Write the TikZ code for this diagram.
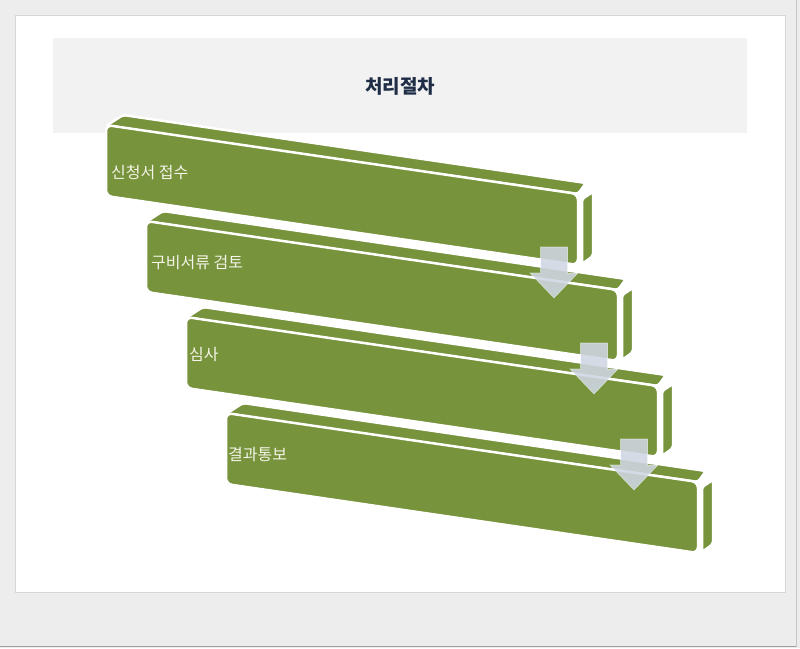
\documentclass[tikz,border=0pt]{standalone}
\usepackage{fontspec}
\newfontfamily\kr{Noto Sans CJK KR}
\usepackage{xcolor}
\usepackage{tikz}

\definecolor{barGreen}{HTML}{77933C}
\definecolor{frameGray}{HTML}{EDEDED}
\definecolor{innerLine}{HTML}{D6D6D6}
\definecolor{titleGray}{HTML}{F2F2F2}
\definecolor{titleNavy}{HTML}{1F2D47}
\definecolor{labelCream}{HTML}{F4F4E8}
\definecolor{arrowGray}{HTML}{CFD7E3}

\begin{document}
\begin{tikzpicture}[x=1pt, y=-1pt,
  face/.style={fill=barGreen, draw=white, line width=2.5pt, line join=round},
  topface/.style={face, rounded corners=3pt},
  sideface/.style={face, rounded corners=2pt},
  frontface/.style={face, rounded corners=6pt},
  barlabel/.style={anchor=west, inner sep=0pt, text=labelCream, font=\kr\fontsize{16}{19}\selectfont},
  downarrow/.style={fill=arrowGray, fill opacity=0.88, draw=white, draw opacity=0.5, line width=0.6pt}]
\useasboundingbox (0,0) rectangle (800,648);

\fill[frameGray] (0,0) rectangle (800,648);
\draw[gray!75, line width=1.2pt] (0,646.6) -- (797,646.6);
\draw[gray!45, line width=1pt] (796.5,0) -- (796.5,647);
\draw[fill=white, draw=innerLine, line width=1pt] (15,15) rectangle (785,592);
\fill[titleGray] (53,38) rectangle (747,133);
\node[text=titleNavy, font=\kr\bfseries\fontsize{19}{22}\selectfont] (title) at (400,86) {처리절차};

\draw[topface, shift={(226,413)}] (0,1) -- (17,-10) -- (480,58) -- (472,69) -- cycle;
\draw[sideface, shift={(226,413)}] (476,74) -- (487,67) -- (487,131) -- (476,139) -- cycle;
\draw[frontface, shift={(226,413)}] (0,0) -- (472,69) -- (472,140) -- (0,71) -- cycle;

\draw[topface, shift={(186,317)}] (0,1) -- (17,-10) -- (480,58) -- (472,69) -- cycle;
\draw[sideface, shift={(186,317)}] (476,74) -- (487,67) -- (487,131) -- (476,139) -- cycle;
\draw[frontface, shift={(186,317)}] (0,0) -- (472,69) -- (472,140) -- (0,71) -- cycle;

\draw[topface, shift={(146,221)}] (0,1) -- (17,-10) -- (480,58) -- (472,69) -- cycle;
\draw[sideface, shift={(146,221)}] (476,74) -- (487,67) -- (487,131) -- (476,139) -- cycle;
\draw[frontface, shift={(146,221)}] (0,0) -- (472,69) -- (472,140) -- (0,71) -- cycle;

\draw[topface, shift={(106,125)}] (0,1) -- (17,-10) -- (480,58) -- (472,69) -- cycle;
\draw[sideface, shift={(106,125)}] (476,74) -- (487,67) -- (487,131) -- (476,139) -- cycle;
\draw[frontface, shift={(106,125)}] (0,0) -- (472,69) -- (472,140) -- (0,71) -- cycle;

\node[barlabel] (apply) at (111,172) {신청서 접수};
\node[barlabel] (docs) at (151,263) {구비서류 검토};
\node[barlabel] (review) at (189,355) {심사};
\node[barlabel] (notice) at (228,455) {결과통보};

\draw[downarrow, shift={(554,247)}] (-13.5,0) -- (13.5,0) -- (13.5,26) -- (24,26) -- (0,51) -- (-24,26) -- (-13.5,26) -- cycle;
\draw[downarrow, shift={(594,343)}] (-13.5,0) -- (13.5,0) -- (13.5,26) -- (24,26) -- (0,51) -- (-24,26) -- (-13.5,26) -- cycle;
\draw[downarrow, shift={(634,439)}] (-13.5,0) -- (13.5,0) -- (13.5,26) -- (24,26) -- (0,51) -- (-24,26) -- (-13.5,26) -- cycle;
\end{tikzpicture}
\end{document}
